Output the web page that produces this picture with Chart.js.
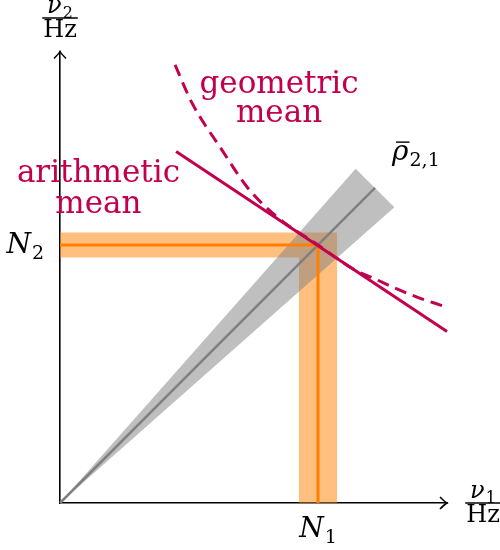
<!DOCTYPE html>
<html><head><meta charset="utf-8">
<script src="https://cdn.jsdelivr.net/npm/chart.js@4"></script>
<style>html,body{margin:0;padding:0;background:#fff}canvas{display:block}</style>
</head><body>
<canvas id="c" width="500" height="550"></canvas>
<script>
// ---- data ----
const xTicks = [1];
const yTicks = [1];
const xTickLabels = [['N', '1']];
const yTickLabels = [['N', '2']];
const xAxisTitle = ['ν', '1', 'Hz'];
const yAxisTitle = ['ν', '2', 'Hz'];
const xMax = 1.5;
const yMax = 1.75;

const n1 = 1, n2 = 1;
const n1Half = 0.074;
const n2Half = 0.048;

const rhoEnd = 1.221;
const rhoHalf = 0.075;
const rhoLabel = ['ρ', '2,1'];

const arithX = [0.45, 1.5];
const arithY = [1.362, 0.665];
const geoX = [0.446, 0.512, 0.628, 0.725, 0.841, 1.0, 1.143, 1.213, 1.298, 1.384, 1.484];
const geoY = [1.698, 1.550, 1.368, 1.225, 1.109, 1.0, 0.903, 0.872, 0.833, 0.798, 0.764];

const wordLabels = ['geometric', 'mean', 'arithmetic', 'mean'];

// ---- styles / layout ----
const CRIMSON = '#C2004E';
const ORANGE = '#FF8000';
const ORANGE_BAND = 'rgba(255,128,0,0.5)';
const GRAY_BAND = 'rgba(128,128,128,0.5)';
const GRAY_LINE = '#808080';
const SERIF = '"DejaVu Serif", serif';
// label anchors in data coordinates
const wordPos = [[0.849, 1.589], [0.849, 1.477], [0.149, 1.244], [0.149, 1.124]];
const rhoPos = [1.287, 1.329];

const pts = (xs, ys) => xs.map((x, i) => ({x, y: ys[i]}));

const bandShape = [
  {x: 0, y: n2 - n2Half}, {x: 0, y: n2 + n2Half}, {x: n1 + n1Half, y: n2 + n2Half},
  {x: n1 + n1Half, y: 0}, {x: n1 - n1Half, y: 0}, {x: n1 - n1Half, y: n2 - n2Half},
  {x: 0, y: n2 - n2Half}
];
const coneShape = [
  {x: 0, y: 0}, {x: rhoEnd - rhoHalf, y: rhoEnd + rhoHalf},
  {x: rhoEnd + rhoHalf, y: rhoEnd - rhoHalf}, {x: 0, y: 0}
];

function drawMath(ctx, x, y, main, sub, size, subSize, align) {
  ctx.font = 'italic ' + size + 'px ' + SERIF;
  const w1 = ctx.measureText(main).width;
  ctx.font = subSize + 'px ' + SERIF;
  const w2 = ctx.measureText(sub).width;
  const total = w1 + w2 + 1;
  let x0 = x;
  if (align === 'center') x0 = x - total / 2;
  else if (align === 'right') x0 = x - total;
  ctx.textAlign = 'left';
  ctx.textBaseline = 'alphabetic';
  ctx.font = 'italic ' + size + 'px ' + SERIF;
  ctx.fillText(main, x0, y);
  ctx.font = subSize + 'px ' + SERIF;
  ctx.fillText(sub, x0 + w1 + 1, y + size * 0.2);
  return {x0, w1, total};
}

function arrowHead(ctx, tx, ty, dir) {
  ctx.beginPath();
  if (dir === 'right') {
    ctx.moveTo(tx - 7, ty - 6);
    ctx.quadraticCurveTo(tx - 2, ty - 1, tx, ty);
    ctx.quadraticCurveTo(tx - 2, ty + 1, tx - 7, ty + 6);
  } else {
    ctx.moveTo(tx - 6, ty + 7);
    ctx.quadraticCurveTo(tx - 1, ty + 2, tx, ty);
    ctx.quadraticCurveTo(tx + 1, ty + 2, tx + 6, ty + 7);
  }
  ctx.stroke();
}

function fraction(ctx, cx, barY, top, sub, bottom) {
  ctx.font = '24px ' + SERIF;
  const wb = ctx.measureText(bottom).width;
  ctx.fillStyle = '#000';
  drawMath(ctx, cx, barY - 5, top, sub, 24, 16, 'center');
  ctx.textAlign = 'center';
  ctx.font = '24px ' + SERIF;
  ctx.fillText(bottom, cx, barY + 19);
  ctx.beginPath();
  ctx.lineWidth = 1.3;
  ctx.strokeStyle = '#000';
  ctx.moveTo(cx - wb / 2 - 1, barY);
  ctx.lineTo(cx + wb / 2 + 1, barY);
  ctx.stroke();
}

const decor = {
  id: 'decor',
  afterDraw(chart) {
    const ctx = chart.ctx;
    const xs = chart.scales.x, ys = chart.scales.y;
    const a = chart.chartArea;
    ctx.save();
    // arrows
    ctx.strokeStyle = '#000';
    ctx.lineWidth = 1.6;
    arrowHead(ctx, a.right, a.bottom, 'right');
    arrowHead(ctx, a.left, a.top, 'up');
    // tick labels
    ctx.fillStyle = '#000';
    xTicks.forEach((v, i) => {
      drawMath(ctx, xs.getPixelForValue(v), a.bottom + 34, xTickLabels[i][0], xTickLabels[i][1], 28, 19, 'center');
    });
    yTicks.forEach((v, i) => {
      drawMath(ctx, a.left - 16, ys.getPixelForValue(v) + 8, yTickLabels[i][0], yTickLabels[i][1], 28, 19, 'right');
    });
    // axis titles
    fraction(ctx, a.right + 36, a.bottom, xAxisTitle[0], xAxisTitle[1], xAxisTitle[2]);
    fraction(ctx, a.left, 18, yAxisTitle[0], yAxisTitle[1], yAxisTitle[2]);
    // word labels
    ctx.fillStyle = CRIMSON;
    ctx.font = '31px ' + SERIF;
    ctx.textAlign = 'center';
    ctx.textBaseline = 'alphabetic';
    wordLabels.forEach((t, i) => {
      ctx.fillText(t, xs.getPixelForValue(wordPos[i][0]), ys.getPixelForValue(wordPos[i][1]));
    });
    // rho label
    ctx.fillStyle = '#000';
    const rx = xs.getPixelForValue(rhoPos[0]), ry = ys.getPixelForValue(rhoPos[1]);
    const m = drawMath(ctx, rx, ry, rhoLabel[0], rhoLabel[1], 28, 19, 'left');
    ctx.beginPath();
    ctx.lineWidth = 1.4;
    ctx.strokeStyle = '#000';
    ctx.moveTo(m.x0 + 4, ry - 18);
    ctx.lineTo(m.x0 + m.w1 + 1, ry - 18);
    ctx.stroke();
    ctx.restore();
  }
};

new Chart(document.getElementById('c'), {
  type: 'scatter',
  data: {
    datasets: [
      {data: pts(arithX, arithY), showLine: true, borderColor: CRIMSON, borderWidth: 3, pointRadius: 0, fill: false, clip: false, order: 1},
      {data: pts(geoX, geoY), showLine: true, borderColor: CRIMSON, borderWidth: 3, borderDash: [12, 7], pointRadius: 0, fill: false, cubicInterpolationMode: 'monotone', clip: false, order: 2},
      {data: [{x: 0, y: n2}, {x: n1, y: n2}], showLine: true, borderColor: ORANGE, borderWidth: 3, pointRadius: 0, fill: false, clip: false, order: 3},
      {data: [{x: n1, y: 0}, {x: n1, y: n2}], showLine: true, borderColor: ORANGE, borderWidth: 3, pointRadius: 0, fill: false, clip: false, order: 3},
      {data: [{x: 0, y: 0}, {x: rhoEnd, y: rhoEnd}], showLine: true, borderColor: GRAY_LINE, borderWidth: 2.5, pointRadius: 0, fill: false, clip: false, order: 4},
      {data: coneShape, showLine: true, borderWidth: 0, borderColor: 'rgba(0,0,0,0)', backgroundColor: GRAY_BAND, pointRadius: 0, fill: 'shape', clip: false, order: 5},
      {data: bandShape, showLine: true, borderWidth: 0, borderColor: 'rgba(0,0,0,0)', backgroundColor: ORANGE_BAND, pointRadius: 0, fill: 'shape', clip: false, order: 6}
    ]
  },
  options: {
    responsive: false,
    animation: false,
    devicePixelRatio: 1,
    layout: {padding: {top: 51.5, right: 53, left: 0, bottom: 0}},
    plugins: {legend: {display: false}, tooltip: {enabled: false}, title: {display: false}},
    scales: {
      x: {
        type: 'linear', min: 0, max: xMax,
        grid: {display: false},
        border: {display: true, color: '#000', width: 1.6},
        ticks: {display: false},
        afterBuildTicks: s => { s.ticks = xTicks.map(v => ({value: v})); },
        afterFit: s => { s.height = 47; }
      },
      y: {
        type: 'linear', min: 0, max: yMax,
        grid: {display: false},
        border: {display: true, color: '#000', width: 1.6},
        ticks: {display: false},
        afterBuildTicks: s => { s.ticks = yTicks.map(v => ({value: v})); },
        afterFit: s => { s.width = 60; }
      }
    }
  },
  plugins: [decor]
});
</script>
</body></html>
